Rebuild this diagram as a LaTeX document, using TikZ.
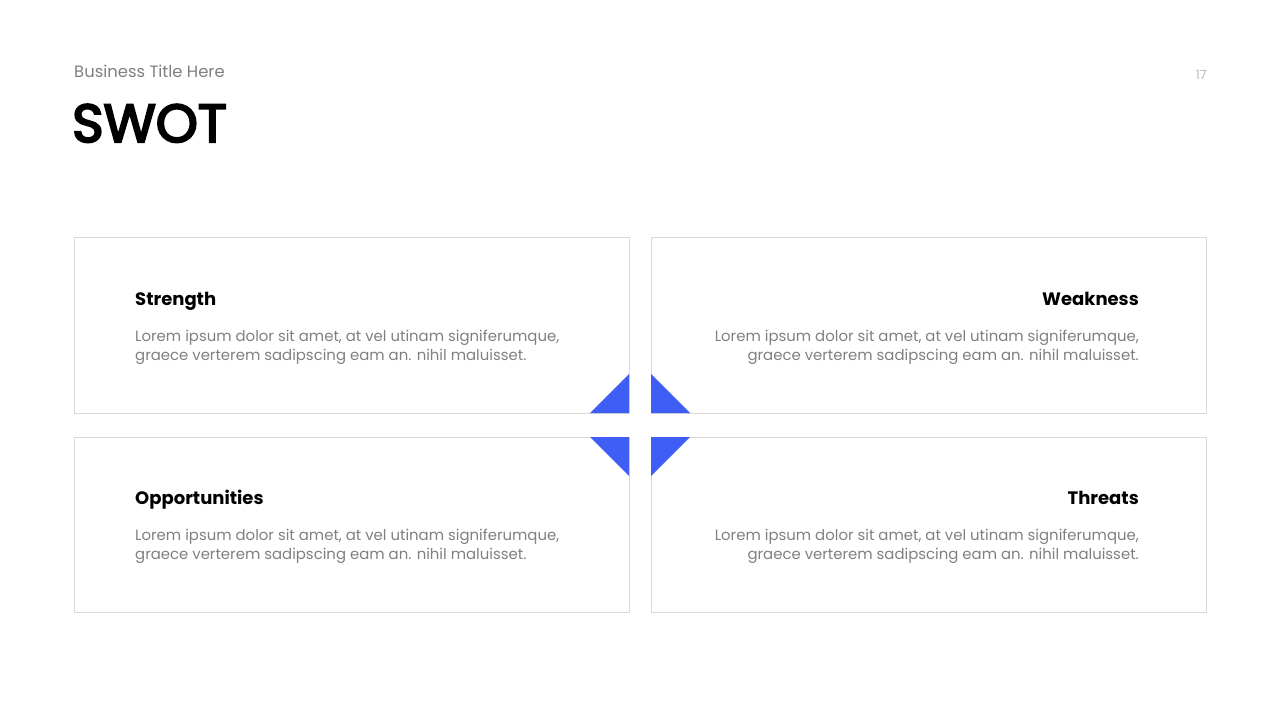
\documentclass[tikz,border=0pt]{standalone}
\usepackage{fontspec}
\setmainfont{Poppins}
\newfontfamily\swotfont{Poppins}[FakeBold=4]
\definecolor{swotblue}{RGB}{63,94,245}
\definecolor{boxline}{RGB}{217,217,217}
\definecolor{bodygray}{RGB}{128,128,128}
\definecolor{numgray}{RGB}{185,185,185}
\begin{document}
\begin{tikzpicture}[x=1pt,y=-1pt,
  panel/.style={draw=boxline,line width=1pt,fill=white},
  tri/.style={fill=swotblue,draw=none},
  head/.style={inner sep=0pt,font=\fontsize{18}{22}\selectfont\bfseries,text=black},
  body/.style={inner sep=0pt,font=\fontsize{14.9}{18.5}\selectfont,text=bodygray}]
\useasboundingbox[fill=white] (0,0) rectangle (1280,720);
% title
\node[inner sep=0pt,anchor=base west,font=\fontsize{16.4}{18}\selectfont,text=bodygray] (biz) at (74,77) {Business Title Here};
\node[inner sep=0pt,anchor=base west,font=\fontsize{53.5}{58}\swotfont\selectfont,text=black] (swot) at (72,142) {SWOT};
\node[inner sep=0pt,anchor=base east,font=\fontsize{12.5}{14}\selectfont,text=numgray] (num) at (1207,79) {17};
% panels
\draw[panel] (74,237) rectangle (629,413);
\draw[panel] (651,237) rectangle (1206,413);
\draw[panel] (74,437) rectangle (629,612);
\draw[panel] (651,437) rectangle (1206,612);
% triangles
\fill[tri] (629,374) -- (629,413) -- (590,413) -- cycle;
\fill[tri] (651,374) -- (651,413) -- (690,413) -- cycle;
\fill[tri] (590,437) -- (629,437) -- (629,476) -- cycle;
\fill[tri] (651,437) -- (690,437) -- (651,476) -- cycle;
% texts
\node[head,anchor=base west] (s) at (135,305) {Strength};
\node[body,anchor=base west,align=left] (st) at (135,360) {Lorem ipsum dolor sit amet, at vel utinam signiferumque,\\graece verterem sadipscing eam an. nihil maluisset.};
\node[head,anchor=base east] (w) at (1139,305) {Weakness};
\node[body,anchor=base east,align=right] (wt) at (1139,360) {Lorem ipsum dolor sit amet, at vel utinam signiferumque,\\graece verterem sadipscing eam an. nihil maluisset.};
\node[head,anchor=base west] (o) at (135,504) {Opportunities};
\node[body,anchor=base west,align=left] (ot) at (135,559) {Lorem ipsum dolor sit amet, at vel utinam signiferumque,\\graece verterem sadipscing eam an. nihil maluisset.};
\node[head,anchor=base east] (t) at (1139,504) {Threats};
\node[body,anchor=base east,align=right] (tt) at (1139,559) {Lorem ipsum dolor sit amet, at vel utinam signiferumque,\\graece verterem sadipscing eam an. nihil maluisset.};
\end{tikzpicture}
\end{document}
